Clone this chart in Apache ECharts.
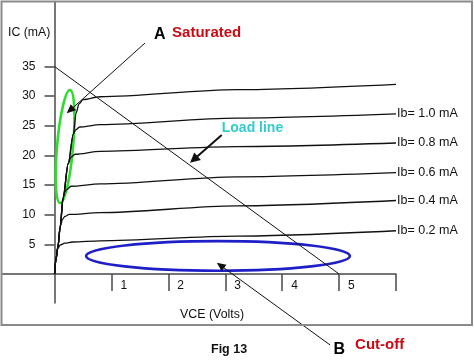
<!DOCTYPE html>
<html><head><meta charset="utf-8">
<script src="https://cdn.jsdelivr.net/npm/echarts@6/dist/echarts.min.js"></script>
<style>html,body{margin:0;padding:0;background:#fff}#c{width:474px;height:361px}</style>
</head><body><div id="c"></div>
<script>
// ---- data (VCE in volts, IC in mA) ----
const xTicks = [1, 2, 3, 4, 5, 6];
const xTickLabels = [1, 2, 3, 4, 5];
const yTickLabels = [5, 10, 15, 20, 25, 30, 35];
const curveNames = ['Ib= 0.2 mA', 'Ib= 0.4 mA', 'Ib= 0.6 mA', 'Ib= 0.8 mA', 'Ib= 1.0 mA', ''];
const ib02 = [[0,0],[0.025,2.5],[0.058,4.3],[0.1,4.9],[0.18,5.2],[0.32,5.4],[0.8,5.6],[3.2,6.4],[6,7.3]];
const ib04 = [[0,0],[0.025,2.5],[0.06,4.6],[0.1,8.0],[0.14,9.2],[0.18,9.7],[0.26,10.05],[0.8,10.35],[3.2,11.5],[6,12.4]];
const ib06 = [[0,0],[0.025,2.5],[0.06,4.6],[0.1,8.0],[0.146,12.8],[0.18,13.8],[0.21,14.2],[0.29,14.8],[0.8,15.2],[3.2,16.4],[6,17.1]];
const ib08 = [[0,0],[0.025,2.5],[0.06,4.6],[0.1,8.0],[0.15,12.8],[0.24,18.6],[0.29,19.7],[0.36,20.2],[0.8,20.7],[3.2,21.5],[6,22.1]];
const ib10 = [[0,0],[0.025,2.5],[0.06,4.6],[0.1,8.0],[0.15,12.8],[0.24,18.6],[0.33,23.6],[0.37,24.3],[0.44,24.8],[0.8,25.2],[3.2,26.3],[6,27.0]];
const ib12 = [[0,0],[0.025,2.5],[0.06,4.6],[0.1,8.0],[0.15,12.8],[0.24,18.6],[0.33,23.6],[0.38,27.2],[0.43,28.7],[0.5,29.4],[0.8,29.9],[3.2,31.1],[6,32.0]];
const loadLine = [[0, 35], [5, 0]];
// annotations (in data units)
const arrows = [[1.590, 38.96, 0.214, 27.10], [2.938, 23.44, 2.381, 18.77], [4.842, -11.97, 2.851, 1.91]];
const ellipses = [[0.185, 21.5, 0.141, 9.56, 5], [2.872, 3.05, 2.318, 2.50, 0]];
const noteTexts = ['A', 'Saturated', 'Load line', 'B', 'Cut-off'];
const noteAnchors = [[1.749, 40.31], [2.065, 40.65], [2.938, 24.62], [4.900, -12.82], [5.281, -11.89]];

// ---- styles ----
const FONT = 'Arial, "Liberation Sans", sans-serif';
const curves = [ib02, ib04, ib06, ib08, ib10, ib12];
const arrowStyle = [{w: 1, len: 9, half: 4}, {w: 2, len: 10, half: 5}, {w: 1, len: 9, half: 4}];
const ellipseColors = ['#2ddc2d', '#1f1fc8'];
const noteStyle = [
  {font: 'bold 16px ' + FONT, color: '#000'},
  {font: 'bold 15px ' + FONT, color: '#cc0a14'},
  {font: 'bold 14px ' + FONT, color: '#33cccc'},
  {font: 'bold 16px ' + FONT, color: '#000'},
  {font: 'bold 15px ' + FONT, color: '#cc0a14'}
];
const axisColor = '#4a4a4a';

const chart = echarts.init(document.getElementById('c'), null, {renderer: 'canvas'});

const series = curves.map((d, i) => ({
  type: 'line', name: curveNames[i], data: d, symbol: 'none',
  smooth: 0.3, smoothMonotone: 'x', silent: true,
  lineStyle: {color: '#111', width: 1.3},
  endLabel: {show: curveNames[i] !== '', formatter: curveNames[i], distance: 1,
    color: '#111', fontSize: 12.5, fontFamily: FONT}
}));
series.push({
  type: 'line', data: loadLine, symbol: 'none', silent: true,
  lineStyle: {color: '#111', width: 1}
});
series.push({
  type: 'custom', silent: true, clip: false,
  data: ellipses, encode: {x: [0], y: [1]},
  renderItem: function (params, api) {
    const e = ellipses[params.dataIndex];
    const c = api.coord([e[0], e[1]]);
    const s = api.size([e[2], e[3]]);
    return {type: 'ellipse', x: c[0], y: c[1], rotation: -e[4] * Math.PI / 180,
      shape: {cx: 0, cy: 0, rx: s[0], ry: s[1]},
      style: {fill: 'none', stroke: ellipseColors[params.dataIndex], lineWidth: 2.6}};
  }
});
series.push({
  type: 'custom', silent: true, clip: false,
  data: arrows, encode: {x: [0, 2], y: [1, 3]},
  renderItem: function (params, api) {
    const a = arrows[params.dataIndex];
    const st = arrowStyle[params.dataIndex];
    const p1 = api.coord([a[0], a[1]]);
    const p2 = api.coord([a[2], a[3]]);
    const dx = p2[0] - p1[0], dy = p2[1] - p1[1];
    const L = Math.sqrt(dx * dx + dy * dy);
    const ux = dx / L, uy = dy / L;
    const bx = p2[0] - ux * st.len, by = p2[1] - uy * st.len;
    return {type: 'group', children: [
      {type: 'line', shape: {x1: p1[0], y1: p1[1], x2: bx + ux * 2, y2: by + uy * 2},
        style: {stroke: '#111', lineWidth: st.w}},
      {type: 'polygon', shape: {points: [[p2[0], p2[1]], [bx - uy * st.half, by + ux * st.half], [bx + uy * st.half, by - ux * st.half]]},
        style: {fill: '#111'}}
    ]};
  }
});
series.push({
  type: 'custom', silent: true, clip: false,
  data: noteAnchors, encode: {x: [0], y: [1]},
  renderItem: function (params, api) {
    const p = api.coord(noteAnchors[params.dataIndex]);
    const st = noteStyle[params.dataIndex];
    return {type: 'text', x: p[0], y: p[1],
      style: {text: noteTexts[params.dataIndex], font: st.font, fill: st.color, align: 'left', verticalAlign: 'middle'}};
  }
});

chart.setOption({
  animation: false,
  backgroundColor: '#fff',
  grid: {left: 2, top: 2, width: 394, height: 301, containLabel: false, outerBoundsMode: 'none'},
  xAxis: {
    type: 'value', min: -0.923, max: 6,
    axisLine: {show: true, onZero: true, lineStyle: {color: axisColor, width: 1.5}},
    axisTick: {show: true, customValues: xTicks, length: 17, lineStyle: {color: axisColor, width: 1.5}},
    axisLabel: {show: true, customValues: xTickLabels, margin: -23, align: 'left', padding: [0, 0, 0, 9],
      color: '#111', fontSize: 12, fontFamily: FONT},
    splitLine: {show: false}
  },
  yAxis: {
    type: 'value', min: -4.89, max: 45.88,
    axisLine: {show: true, onZero: true, lineStyle: {color: axisColor, width: 1.5}},
    axisTick: {show: true, customValues: yTickLabels, length: 10, lineStyle: {color: axisColor, width: 1.5}},
    axisLabel: {show: true, customValues: yTickLabels, margin: -33.5, color: '#111', fontSize: 12, fontFamily: FONT},
    splitLine: {show: false}
  },
  graphic: [
    {type: 'rect', shape: {x: 1.5, y: 1.5, width: 470.5, height: 323.5}, style: {fill: 'none', stroke: '#8a8a8a', lineWidth: 2}, z: 100, silent: true},
    {type: 'text', x: 8, y: 33, style: {text: 'IC (mA)', font: '12.3px ' + FONT, fill: '#111', verticalAlign: 'middle'}},
    {type: 'text', x: 180, y: 315, style: {text: 'VCE (Volts)', font: '12.4px ' + FONT, fill: '#111', verticalAlign: 'middle'}},
    {type: 'text', x: 211, y: 350, style: {text: 'Fig 13', font: 'bold 12.5px ' + FONT, fill: '#111', verticalAlign: 'middle'}}
  ],
  series: series
});
</script></body></html>
